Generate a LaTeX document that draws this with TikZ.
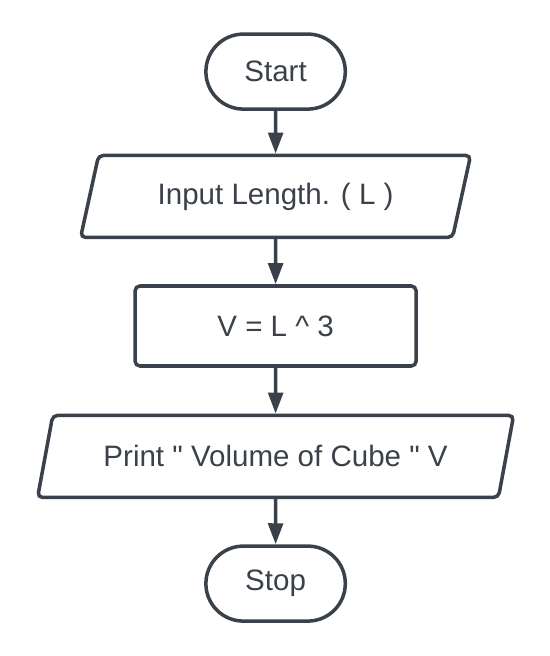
\documentclass[tikz,border=0pt]{standalone}
\usepackage{fontspec}
\setmainfont{Liberation Sans}[Ligatures=TeXOff]
\usetikzlibrary{shapes.geometric,shapes.misc,arrows.meta}
\definecolor{ink}{HTML}{3A414A}

\begin{document}
\begin{tikzpicture}[font=\fontsize{21}{25}\selectfont, text=ink,
  every node/.style={draw=ink, line width=2.5pt},
  term/.style={rounded rectangle, minimum width=3.72cm, minimum height=1.875cm},
  io/.style={trapezium, trapezium left angle=64, trapezium right angle=116,
    trapezium stretches body, rounded corners=0.12cm, minimum height=2.05cm},
  proc/.style={rectangle, rounded corners=0.12cm, minimum width=7.025cm, minimum height=2cm},
  flow/.style={-{Triangle[width=10.5pt,length=15pt]}, draw=ink, line width=2.5pt}]
  \useasboundingbox (0,0) rectangle (13.75,-16.4);
  \node[term] (start) at (6.89,-1.79) {Start};
  \node[io, minimum width=9.75cm] (input) at (6.89,-4.91) {Input Length. ( L )};
  \node[proc] (calc) at (6.89,-8.15) {V = L \^{} 3};
  \node[io, minimum width=11.9cm] (print) at (6.89,-11.41) {Print " Volume of Cube " V};
  \node[term] (stop) at (6.89,-14.59) {Stop};
  \draw[flow] (start) -- (input);
  \draw[flow] (input) -- (calc);
  \draw[flow] (calc) -- (print);
  \draw[flow] (print) -- (stop);
\end{tikzpicture}
\end{document}
